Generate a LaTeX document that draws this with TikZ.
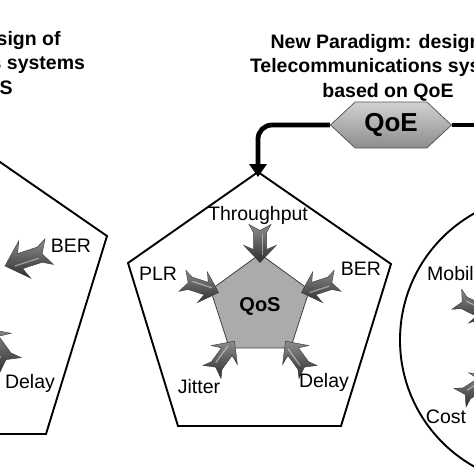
\documentclass[tikz,border=0pt]{standalone}
\usepackage{fontspec}
\setmainfont{Liberation Sans}
\usetikzlibrary{arrows.meta,shapes.geometric,shapes.symbols,calc}

\tikzset{
  lbl/.style={font=\fontsize{19.5}{23}\selectfont, inner sep=0pt, anchor=base},
  ttl/.style={font=\fontsize{19.5}{24.5}\selectfont\bfseries, align=center, inner sep=0pt, anchor=north},
  pentaframe/.style={line width=1.9pt, line join=miter},
  conn/.style={line width=4.8pt, rounded corners=14pt, -{Triangle[width=17pt,length=13pt]}},
  qosbox/.style={regular polygon, regular polygon sides=5, minimum size=104pt, inner sep=0pt,
    draw=black!75, line width=0.8pt, fill=black!33, font=\fontsize{20}{24}\selectfont\bfseries},
  qoebox/.style={signal, signal to=west and east, signal pointer angle=86, minimum width=121pt,
    minimum height=46pt, inner sep=0pt, draw=black!65, line width=0.8pt,
    top color=black!18, bottom color=black!45, font=\fontsize{26}{30}\selectfont\bfseries},
  qosarrow/.pic={
    \path[draw=black!75, line width=0.5pt, top color=black!45, bottom color=black!82]
      (0,0) -- (-17,16) -- (-13,6.5) -- (-30,6.5) -- (-38,11) -- (-32,0)
      -- (-38,-11) -- (-30,-6.5) -- (-13,-6.5) -- (-17,-16) -- cycle;
    \draw[white, opacity=0.45, line width=1.2pt, line cap=round] (-28,-2.5) -- (-8,-2.5);
  }
}

\begin{document}
\begin{tikzpicture}[x=1pt, y=-1pt]
\useasboundingbox (0,0) rectangle (474,474);
\clip (0,0) rectangle (474,474);

% titles
\node[ttl] (oldtitle) at (-53,31) {Old Paradigm: design of\\Telecommunications systems\\based on QoS};
\node[ttl] (newtitle) at (388,34) {New Paradigm: design of\\Telecommunications systems\\based on QoE};

% old paradigm panel
\draw[pentaframe] (-55,124) -- (107,236) -- (46,434) -- (-152,434) -- (-213,235) -- cycle;
\pic[rotate=198, scale=1.22] at (5,266) {qosarrow};
\pic[rotate=126, scale=1.22] at (-17,328) {qosarrow};
\node[lbl] (lber) at (71,252) {BER};
\node[lbl] (ldelay) at (30,388) {Delay};

% new paradigm panel
\coordinate (mtop) at (258,172);
\draw[pentaframe] (mtop) -- (391,264) -- (341,426) -- (178,426) -- (128,263) -- cycle;
\node[qosbox] (qos) at (260,306) {QoS};
\pic[rotate=-90] at ($(qos.corner 1)!9pt!(qos.center)$) {qosarrow};
\pic[rotate=-18] at ($(qos.corner 2)!9pt!(qos.center)$) {qosarrow};
\pic[rotate=54] at ($(qos.corner 3)!9pt!(qos.center)$) {qosarrow};
\pic[rotate=126] at ($(qos.corner 4)!9pt!(qos.center)$) {qosarrow};
\pic[rotate=198] at ($(qos.corner 5)!9pt!(qos.center)$) {qosarrow};
\node[lbl] (thr) at (258,220) {Throughput};
\node[lbl] (plr) at (158,280) {PLR};
\node[lbl] (ber) at (361,275) {BER};
\node[lbl] (jit) at (199,393) {Jitter};
\node[lbl] (dly) at (324,387) {Delay};

% QoE box and links
\node[qoebox] (qoe) at (391,125) {QoE};
\draw[conn, shorten >=-5pt] (qoe.west) -| (mtop);
\coordinate (rend) at (480,125);
\draw[line width=4.8pt] (qoe.east) -- (rend);

% right panel
\draw[line width=1.9pt] (545,340) circle[radius=145pt];
\pic[rotate=-26] at (491,316) {qosarrow};
\pic[rotate=33] at (492,377) {qosarrow};
\node[lbl, anchor=base west] (mob) at (427,280) {Mobility};
\node[lbl] (cost) at (446,423) {Cost};
\end{tikzpicture}
\end{document}
